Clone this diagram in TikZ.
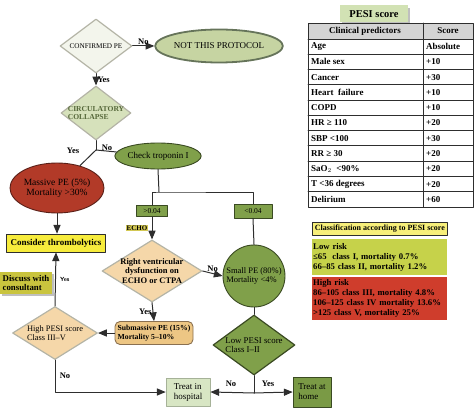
\documentclass[tikz,border=0pt]{standalone}
\usepackage{fontspec}
\setmainfont{Liberation Serif}
\usetikzlibrary{arrows,shapes.geometric,shadows}

\definecolor{linegray}{HTML}{2E2E2E}
\definecolor{confpe}{HTML}{F3F5EC}
\definecolor{diaedge}{HTML}{B4B4A6}
\definecolor{notfill}{HTML}{C6D4A2}
\definecolor{notedge}{HTML}{66745A}
\definecolor{circfill}{HTML}{D6E1BB}
\definecolor{circtext}{HTML}{56683A}
\definecolor{massfill}{HTML}{B23A28}
\definecolor{massedge}{HTML}{5A2018}
\definecolor{tropfill}{HTML}{80A04A}
\definecolor{darkgreen}{HTML}{3A4A22}
\definecolor{consfill}{HTML}{F7EC3C}
\definecolor{echofill}{HTML}{D4C954}
\definecolor{peach}{HTML}{F5D7A9}
\definecolor{subfill}{HTML}{EDC684}
\definecolor{subedge}{HTML}{8A7050}
\definecolor{hospfill}{HTML}{D8E6C4}
\definecolor{hospedge}{HTML}{A6B298}
\definecolor{homefill}{HTML}{7A9A45}
\definecolor{discfill}{HTML}{C9C43E}
\definecolor{pesifill}{HTML}{D2E2B4}
\definecolor{headgray}{HTML}{D4D4D4}
\definecolor{classfill}{HTML}{F7EF7A}
\definecolor{lowrisk}{HTML}{C6D24A}
\definecolor{highrisk}{HTML}{CF3D2C}

\begin{document}
\begin{tikzpicture}[line cap=round,line join=round,>=triangle 45,x=1pt,y=-1pt,
  font=\fontsize{9}{10}\selectfont,
  decision/.style={diamond,draw=diaedge,line width=1.2pt,inner xsep=-10pt,inner ysep=-3pt,align=center},
  outcome/.style={ellipse,draw,line width=0.9pt,inner sep=0pt,align=center},
  flowbox/.style={rectangle,draw,line width=0.8pt,inner sep=1pt,align=center},
  link/.style={line width=1pt,draw=linegray},
  lbl/.style={font=\bfseries\fontsize{8.5}{9}\selectfont,inner sep=1pt},
  cell/.style={anchor=west,font=\bfseries\fontsize{9}{10}\selectfont,inner sep=0pt},
  riskbox/.style={anchor=north west,minimum width=135,inner xsep=1pt,inner ysep=2pt,text width=133,align=left,font=\bfseries\fontsize{8.7}{10}\selectfont}]

\useasboundingbox (0,0) rectangle (474,409);

% flow chart
\node[decision,fill=confpe,minimum width=72,minimum height=54,font=\fontsize{7.2}{8}\selectfont] (conf) at (96,46) {CONFIRMED PE};
\node[outcome,fill=notfill,draw=notedge,line width=1.8pt,minimum width=118,minimum height=33] (notprot) at (219,46) {NOT THIS PROTOCOL};
\node[decision,fill=circfill,text=circtext,minimum width=70,minimum height=54,align=left,font=\bfseries\fontsize{7.6}{8.5}\selectfont] (circ) at (96,113) {CIRCULATORY\\COLLAPSE};
\coordinate (split) at (96,150);
\node[outcome,fill=massfill,draw=massedge,minimum width=78,minimum height=50,font=\fontsize{9.5}{10}\selectfont] (massive) at (57,188) {Massive PE (5\%)\\Mortality >30\%};
\node[outcome,fill=tropfill,draw=darkgreen,minimum width=80,minimum height=26] (trop) at (158,156) {Check troponin I};
\node[flowbox,fill=consfill,draw=linegray,minimum width=99,minimum height=18,font=\bfseries\fontsize{9}{10}\selectfont] (cons) at (56,243) {Consider thrombolytics};
\coordinate (brk) at (159,192);
\node[flowbox,fill=tropfill,draw=darkgreen,minimum width=31,minimum height=11,font=\fontsize{7.5}{8}\selectfont] (gt) at (152,211) {>0.04};
\node[flowbox,fill=tropfill,draw=darkgreen,minimum width=38,minimum height=14,font=\fontsize{7.5}{8}\selectfont] (lt) at (253,211) {<0.04};
\node[fill=echofill,inner sep=1pt,font=\bfseries\fontsize{7}{7}\selectfont] (echo) at (137,228) {ECHO};
\node[decision,fill=peach,minimum width=100,minimum height=62,font=\bfseries\fontsize{8.5}{9.5}\selectfont] (rv) at (152,271) {Right ventricular\\dysfunction on\\ECHO or CTPA};
\node[circle,draw=darkgreen,line width=0.9pt,fill=tropfill,inner sep=-4pt,minimum size=62,align=left,font=\fontsize{8.5}{9.5}\selectfont] (small) at (254,276) {Small PE (80\%)\\Mortality <4\%};
\node[rectangle,rounded corners=5pt,draw=subedge,line width=0.9pt,fill=subfill,minimum width=78,minimum height=23,align=left,inner sep=1pt,font=\bfseries\fontsize{7.7}{9}\selectfont] (sub) at (154,333) {Submassive PE (15\%)\\Mortality 5--10\%};
\node[decision,fill=peach,minimum width=85,minimum height=53,align=left,font=\fontsize{8.4}{9.5}\selectfont] (high) at (55,333) {High PESI score\\Class III--V};
\node[rectangle,fill=discfill,drop shadow,minimum width=52,minimum height=22,inner sep=1pt,align=left,font=\bfseries\fontsize{8.8}{9.5}\selectfont] (discuss) at (26,283) {Discuss with\\consultant};
\node[flowbox,fill=hospfill,draw=hospedge,minimum width=44,minimum height=28,align=left] (hosp) at (188,392) {Treat in\\hospital};
\node[decision,fill=tropfill,draw=darkgreen,minimum width=82,minimum height=60,align=left,font=\fontsize{8.8}{9.5}\selectfont] (lowpesi) at (254,345) {Low PESI score\\Class I--II};
\coordinate (fork) at (254,393);
\node[flowbox,fill=homefill,draw=darkgreen,minimum width=38,minimum height=30,align=left] (home) at (312,392) {Treat at\\home};

% connectors
\draw[link,->] (conf) -- (notprot) node[lbl,midway,above] (noa) {No};
\draw[link,->] (conf) -- (circ) node[lbl,midway,right] (yesa) {Yes};
\draw[link] (circ.south) -- (split);
\draw[link] (split) -- (massive);
\draw[link] (split) -- (trop);
\node[lbl] (yesb) at (73,151) {Yes};
\node[lbl] (nob) at (107,148) {No};
\draw[link,->] (massive.south) -- (massive.south |- cons.north);
\draw[link] (trop.south) -- (brk);
\draw[link] (gt.north) |- (brk) -| (lt.north);
\draw[link,->] (gt.south) -- (rv.north);
\draw[link] (lt.south) -- (small.north);
\draw[link,->] (rv.east) -- (small.west) node[lbl,midway,above] (noc) {No};
\draw[link,->] (rv.south) -- (sub.north) node[lbl,midway,left] (yesc) {Yes};
\draw[link,->] (sub.west) -- (high.east);
\draw[link,->] (high.north) -- (cons.south) node[lbl,midway,right,xshift=3pt,font=\sffamily\bfseries\fontsize{6}{6}\selectfont] (yesd) {Yes};
\draw[link,->] (high.south) |- (hosp.west);
\node[lbl] (nod) at (65,376) {No};
\draw[link] (small.south) -- (lowpesi.north);
\draw[link] (lowpesi.south) -- (fork);
\draw[link,->] (fork) -- (hosp.east);
\draw[link,->] (fork) -- (home.west);
\node[lbl] (noe) at (231,384) {No};
\node[lbl] (yese) at (268,384) {Yes};

% PESI table
\node[rectangle,fill=pesifill,drop shadow,minimum width=68,minimum height=17,font=\bfseries\fontsize{10.5}{11}\selectfont] (pesi) at (374,14) {PESI score};
\fill[headgray] (308,23) rectangle (473,39);
\draw[line width=0.8pt,draw=linegray] (308,23) rectangle (473,207);
\draw[line width=0.8pt,draw=linegray] (423,23) -- (423,207);
\draw[line width=0.8pt,draw=linegray] (308,39) -- (473,39);
\draw[line width=0.8pt,draw=linegray] (308,54.3) -- (473,54.3);
\draw[line width=0.8pt,draw=linegray] (308,69.5) -- (473,69.5);
\draw[line width=0.8pt,draw=linegray] (308,84.8) -- (473,84.8);
\draw[line width=0.8pt,draw=linegray] (308,100.1) -- (473,100.1);
\draw[line width=0.8pt,draw=linegray] (308,115.4) -- (473,115.4);
\draw[line width=0.8pt,draw=linegray] (308,130.6) -- (473,130.6);
\draw[line width=0.8pt,draw=linegray] (308,145.9) -- (473,145.9);
\draw[line width=0.8pt,draw=linegray] (308,161.2) -- (473,161.2);
\draw[line width=0.8pt,draw=linegray] (308,176.4) -- (473,176.4);
\draw[line width=0.8pt,draw=linegray] (308,191.7) -- (473,191.7);

\node[cell,anchor=center] (hdra) at (365,31) {Clinical predictors};
\node[cell,anchor=center] (hdrb) at (448,31) {Score};
\node[cell] (ra1) at (311,46.6) {Age};            \node[cell] (rb1) at (426,46.6) {Absolute};
\node[cell] (ra2) at (311,61.9) {Male sex};       \node[cell] (rb2) at (426,61.9) {+10};
\node[cell] (ra3) at (311,77.2) {Cancer};         \node[cell] (rb3) at (426,77.2) {+30};
\node[cell] (ra4) at (311,92.4) {Heart\ \ failure}; \node[cell] (rb4) at (426,92.4) {+10};
\node[cell] (ra5) at (311,107.7) {COPD};          \node[cell] (rb5) at (426,107.7) {+10};
\node[cell] (ra6) at (311,123) {HR ≥ 110};        \node[cell] (rb6) at (426,123) {+20};
\node[cell] (ra7) at (311,138.3) {SBP <100};      \node[cell] (rb7) at (426,138.3) {+30};
\node[cell] (ra8) at (311,153.5) {RR ≥ 30};       \node[cell] (rb8) at (426,153.5) {+20};
\node[cell] (ra9) at (311,168.8) {SaO$_2$\ \ <90\%}; \node[cell] (rb9) at (426,168.8) {+20};
\node[cell] (ra10) at (311,184.1) {T <36 degrees}; \node[cell] (rb10) at (426,184.1) {+20};
\node[cell] (ra11) at (311,199.4) {Delirium};     \node[cell] (rb11) at (426,199.4) {+60};

% classification
\node[rectangle,draw=linegray,line width=0.8pt,fill=classfill,anchor=north west,minimum width=135,minimum height=13,inner sep=1pt,font=\bfseries\fontsize{8}{8}\selectfont] (class) at (312,222) {Classification according to PESI score};
\node[riskbox,fill=lowrisk,minimum height=36] (low) at (312,239) {Low risk\\≤65\ \ class I, mortality 0.7\%\\66--85 class II, mortality 1.2\%};
\node[riskbox,fill=highrisk,minimum height=43] (hirisk) at (312,277) {High risk\\86--105 class III, mortality 4.8\%\\106--125 class IV mortality 13.6\%\\>125 class V, mortality 25\%};
\end{tikzpicture}
\end{document}
